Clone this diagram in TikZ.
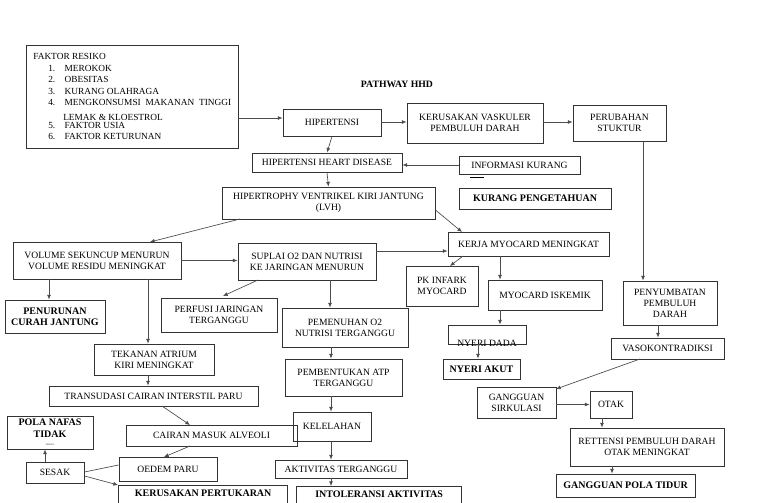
\documentclass[tikz,border=0pt]{standalone}
\usepackage{fontspec}
\setmainfont{Liberation Serif}
\usetikzlibrary{arrows.meta}
\begin{document}
\begin{tikzpicture}[x=0.75pt,y=-0.75pt,
  bx/.style={draw=black!80,line width=0.7pt,align=center,font=\fontsize{7.2}{8.2}\selectfont},
  bb/.style={bx,font=\fontsize{7.5}{8.6}\selectfont\bfseries},
  ar/.style={-{Latex[length=3.5pt,width=3pt]},draw=black!70,line width=0.5pt},
  ln/.style={draw=black!70,line width=0.5pt}]
\useasboundingbox[fill=white] (0,0) rectangle (768,503);
\newcommand{\bxat}[6][bx]{\node[#1,minimum width={(#4-#2)*0.75pt},minimum height={(#5-#3)*0.75pt},inner sep=1pt] (#6) at ({(#2+#4)/2},{(#3+#5)/2})}
\bxat{26}{45}{238}{148}{fr}{};
\tikzset{ft/.style={anchor=base west,inner sep=0,font=\fontsize{7}{8}\selectfont}}
\node[ft] (f0) at (33,60) {FAKTOR RESIKO};
\node[ft] (f1) at (48,72) {1.\hspace{7pt}MEROKOK};
\node[ft] (f2) at (48,83) {2.\hspace{7pt}OBESITAS};
\node[ft] (f3) at (48,94) {3.\hspace{7pt}KURANG OLAHRAGA};
\node[ft] (f4) at (48,106) {4.\hspace{7pt}\hbox to 125pt{MENGKONSUMSI\hfill MAKANAN\hfill TINGGI}};
\node[ft] (f4b) at (63,121) {LEMAK \& KLOESTROL};
\node[ft] (f5) at (48,128) {5.\hspace{7pt}FAKTOR USIA};
\node[ft] (f6) at (48,140) {6.\hspace{7pt}FAKTOR KETURUNAN};
\node[font=\fontsize{7.3}{8}\selectfont\bfseries] (title) at (397,84) {PATHWAY HHD};
\bxat{283}{109}{381}{136}{hip}{HIPERTENSI};
\bxat{407}{103}{543}{143}{kv}{KERUSAKAN VASKULER\\PEMBULUH DARAH};
\bxat{573}{105}{666}{141}{ps}{PERUBAHAN\\STUKTUR};
\bxat{252}{153}{402}{172}{hhd}{HIPERTENSI HEART DISEASE};
\bxat{459}{156}{580}{174}{ik}{INFORMASI KURANG};
\draw[line width=0.6pt] (470,177) -- (484,177);
\bxat[bb]{459}{188}{611}{209}{kp}{KURANG PENGETAHUAN};
\bxat{222}{187}{435}{219}{lvh}{HIPERTROPHY VENTRIKEL KIRI JANTUNG\\(LVH)};
\bxat{448}{232}{609}{256}{km}{KERJA MYOCARD MENINGKAT};
\bxat{406}{266}{478}{306}{pk}{PK INFARK\\MYOCARD};
\bxat{488}{280}{602}{310}{mi}{MYOCARD ISKEMIK};
\bxat{623}{281}{717}{325}{pen}{PENYUMBATAN\\PEMBULUH\\DARAH};
\bxat{448}{325}{526}{344}{nd}{};
\node[font=\fontsize{7.2}{8}\selectfont,inner sep=0] (ndt) at (487,343) {NYERI DADA};
\bxat[bb]{443}{359}{520}{379}{na}{NYERI AKUT};
\bxat{611}{338}{724}{359}{vk}{VASOKONTRADIKSI};
\bxat{477}{387}{556}{418}{gs}{GANGGUAN\\SIRKULASI};
\bxat{590}{391}{632}{418}{ot}{OTAK};
\bxat{570}{428}{724}{466}{rt}{RETTENSI PEMBULUH DARAH\\OTAK MENINGKAT};
\bxat[bb]{556}{474}{695}{497}{gpt}{GANGGUAN POLA TIDUR};
\bxat{13}{242}{181}{279}{vs}{VOLUME SEKUNCUP MENURUN\\VOLUME RESIDU MENINGKAT};
\bxat{238}{243}{376}{280}{sp}{SUPLAI O2 DAN NUTRISI\\KE JARINGAN MENURUN};
\bxat[bb]{5}{300}{105}{333}{pcj}{PENURUNAN\\CURAH JANTUNG};
\bxat{161}{298}{277}{332}{pj}{PERFUSI JARINGAN\\TERGANGGU};
\bxat{282}{308}{408}{347}{pm}{PEMENUHAN O2\\NUTRISI TERGANGGU};
\bxat{94}{344}{214}{375}{ta}{TEKANAN ATRIUM\\KIRI MENINGKAT};
\bxat{285}{359}{402}{396}{pb}{PEMBENTUKAN ATP\\TERGANGGU};
\bxat{49}{386}{258}{406}{tr}{TRANSUDASI CAIRAN INTERSTIL PARU};
\bxat{293}{412}{371}{441}{kl}{KELELAHAN};
\bxat[bb]{7}{416}{93}{449}{pn}{POLA NAFAS\\TIDAK\\[-2pt]{\fontsize{1.5}{2}\selectfont\mdseries EFEKTIF}};
\bxat{126}{425}{297}{446}{ca}{CAIRAN MASUK ALVEOLI};
\bxat{26}{462}{84}{483}{ss}{SESAK};
\bxat{119}{457}{217}{481}{oe}{OEDEM PARU};
\bxat{275}{460}{407}{478}{at}{AKTIVITAS TERGANGGU};
\node[bb,anchor=north west,minimum width=127pt,minimum height=22pt,inner sep=1pt,text depth=11pt] (kpg) at (118,485) {KERUSAKAN PERTUKARAN};
\node[bb,anchor=north west,minimum width=124pt,minimum height=22pt,inner sep=1pt,text depth=11pt] (int) at (296,486) {INTOLERANSI AKTIVITAS};
% connectors
\draw[ar] (fr.east |- 0,118) -- (hip.west |- 0,118);
\draw[ar] (hip.east |- 0,122) -- (kv.west |- 0,122);
\draw[ar] (kv.east |- 0,122) -- (ps.west |- 0,122);
\draw[ar] (hip.south) -- (hhd.north);
\draw[ar] (ik.west) -- (hhd.east |- ik.west);
\draw[ar] (hhd.south) -- (lvh.north);
\draw[ar] (240,219) -- (150,242);
\draw[ar] (lvh.east |- 0,210) -- (462,232);
\draw[ar] (vs.east) -- (sp.west |- vs.east);
\draw[ar] (sp.east |- 0,251) -- (km.west |- 0,251);
\draw[ar] (463,256) -- (450,266);
\draw[ar] (km.south -| 500,0) -- (mi.north -| 500,0);
\draw[ar] (mi.south -| 500,0) -- (nd.north -| 500,0);
\draw[ar] (nd.south -| 478,0) -- (na.north -| 478,0);
\draw[ar] (ps.south -| 643,0) -- (pen.north -| 643,0);
\draw[ar] (pen.south -| 658,0) -- (vk.north -| 658,0);
\draw[ar] (640,359) -- (556,389);
\draw[ar] (gs.east |- ot.west) -- (ot.west);
\draw[ar] (ot.south -| 602,0) -- (rt.north -| 602,0);
\draw[ar] (rt.south -| 612,0) -- (gpt.north -| 612,0);
\draw[ar] (vs.south -| 49,0) -- (pcj.north -| 49,0);
\draw[ar] (vs.south -| 148,0) -- (ta.north -| 148,0);
\draw[ar] (258,280) -- (223,296);
\draw[ar] (sp.south -| 330,0) -- (pm.north -| 330,0);
\draw[ar] (pm.south -| 331,0) -- (pb.north -| 331,0);
\draw[ar] (pb.south -| 331,0) -- (kl.north -| 331,0);
\draw[ar] (kl.south -| 331,0) -- (at.north -| 331,0);
\draw[ar] (at.south -| 331,0) -- (int.north -| 331,0);
\draw[ar] (ta.south -| 148,0) -- (tr.north -| 148,0);
\draw[ar] (162,406) -- (190,425);
\draw[ar] (190,446) -- (164,457);
\draw[ln] (ss.east |- 0,472) -- (oe.west |- 0,465);
\draw[ar] (ss.east |- 0,476) -- (kpg.north west);
\draw[ar] (ss.north -| 45,0) -- (pn.south -| 45,0);
\end{tikzpicture}
\end{document}
